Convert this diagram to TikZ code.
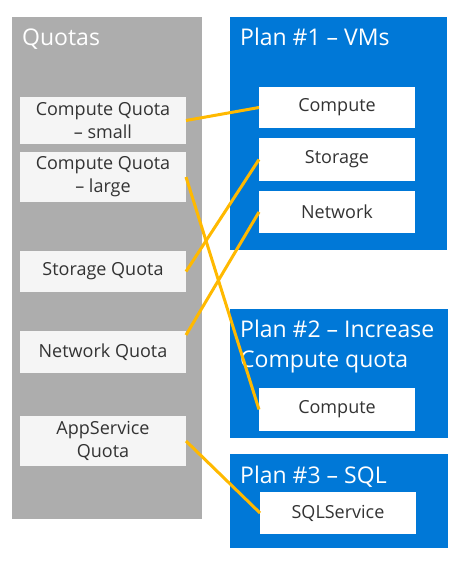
\documentclass[tikz,border=0pt]{standalone}
\usepackage{fontspec}
\setmainfont{Open Sans}
\usetikzlibrary{calc}
\definecolor{quotagray}{HTML}{ADADAD}
\definecolor{planblue}{HTML}{0078D7}
\definecolor{boxwhite}{HTML}{F5F5F5}
\definecolor{linkyellow}{HTML}{FFB900}
\definecolor{textgray}{HTML}{333333}
\tikzset{
    title/.style={anchor=base west, inner sep=0, text=white,
        font=\fontsize{23}{30}\selectfont, align=left},
    quotabox/.style={fill=boxwhite, text=textgray, inner sep=0, outer sep=0,
        minimum width=166, font=\fontsize{18}{23}\selectfont, align=center},
    planbox/.style={fill=white, text=textgray, inner sep=0, outer sep=0,
        minimum width=156, font=\fontsize{18}{23}\selectfont, align=center},
    link/.style={linkyellow, line width=3pt},
}

\begin{document}
\begin{tikzpicture}[x=1pt, y=-1pt]
        \useasboundingbox (0, 0) rectangle (474, 571);
        % panels
        \fill[quotagray] (12, 17) rectangle (202, 519);
        \fill[planblue] (230, 17) rectangle (447, 250);
        \fill[planblue] (230, 309) rectangle (448, 438);
        \fill[planblue] (230, 454) rectangle (448, 548);
        \node[title] (quotas) at (22, 45) {Quotas};
        \node[title] (plan1) at (240, 45) {Plan \#1 – VMs};
        \node[title] (plan2) at (240, 367) {Plan \#2 – Increase\\Compute quota};
        \node[title] (plan3) at (240, 483) {Plan \#3 – SQL};
        % quotas
        \node[quotabox, minimum height=47] (cqsmall) at (103, 120.5) {Compute Quota\\– small};
        \node[quotabox, minimum height=50] (cqlarge) at (103, 177) {Compute Quota\\– large};
        \node[quotabox, minimum height=41] (sq) at (103, 271.5) {Storage Quota};
        \node[quotabox, minimum height=42] (nq) at (103, 352) {Network Quota};
        \node[quotabox, minimum height=50] (aq) at (103, 441) {AppService\\Quota};
        % services
        \node[planbox, minimum height=41] (vmcompute) at (337, 107.5) {Compute};
        \node[planbox, minimum height=43] (vmstorage) at (337, 159.5) {Storage};
        \node[planbox, minimum height=42] (vmnetwork) at (337, 212) {Network};
        \node[planbox, minimum height=43] (upcompute) at (337, 409.5) {Compute};
        \node[planbox, minimum height=42] (sqlservice) at (338, 513) {SQLService};
        % links
        \draw[link] (cqsmall.east) -- (vmcompute.west);
        \draw[link] (cqlarge.east) -- (upcompute.west);
        \draw[link] (sq.east) -- (vmstorage.west);
        \draw[link] ([yshift=-4]nq.north east) -- (vmnetwork.west);
        \draw[link] (aq.east) -- (sqlservice.west);
    \end{tikzpicture}
\end{document}
